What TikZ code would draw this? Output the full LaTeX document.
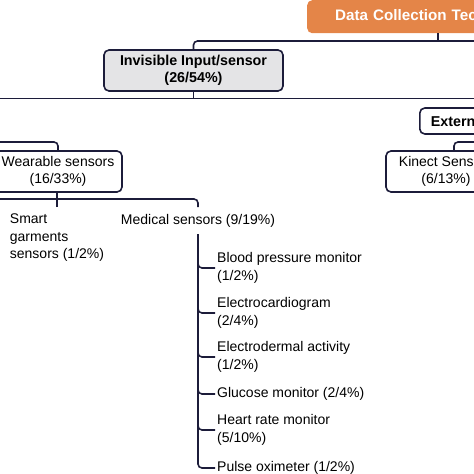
\documentclass[tikz,border=0pt]{standalone}
\usepackage{fontspec}
\setmainfont{Liberation Sans}
\definecolor{linenavy}{RGB}{28,28,58}
\definecolor{toporange}{RGB}{228,133,72}
\definecolor{boxgray}{RGB}{228,228,230}
\tikzset{
  conn/.style={draw=linenavy, line width=1.6pt, rounded corners=4pt},
  catbox/.style={draw=linenavy, line width=1.6pt, rounded corners=5pt, align=center, minimum height=41pt, inner sep=2pt},
  leaf/.style={align=left, inner xsep=2pt, inner ysep=5pt},
  boldtext/.style={font={\fontsize{14.3}{17.5}\selectfont\bfseries}},
}

\begin{document}
\begin{tikzpicture}[x=1pt, y=-1pt, font={\fontsize{14}{17.5}\selectfont}]
  \useasboundingbox (0,0) rectangle (474,474);
  \clip (0,0) rectangle (474,474);

  % category boxes
  \node[anchor=north west, fill=toporange, rounded corners=5pt, text=white, font={\fontsize{15.2}{18}\selectfont\bfseries}, minimum height=33pt, inner xsep=28pt, text width=206pt, align=left] (top) at (307,0) {Data Collection Techniques};
  \node[catbox, fill=boxgray, boldtext, minimum width=179pt] (inv) at (193.5,70.5) {Invisible Input/sensor\\(26/54\%)};
  \node[catbox, boldtext, anchor=west, minimum height=26pt, inner xsep=11pt] (ext) at (419,121) {External};
  \node[catbox, minimum width=128pt] (wear) at (58,171.5) {Wearable sensors\\(16/33\%)};
  \node[catbox, minimum width=120pt] (kin) at (446,171.5) {Kinect Sensors\\(6/13\%)};

  % leaves
  \node[leaf, anchor=north, inner ysep=7pt] (smart) at (57,207) {Smart\\garments\\sensors (1/2\%)};
  \node[leaf, anchor=north, inner ysep=7pt] (med) at (198,207) {Medical sensors (9/19\%)};
  \node[leaf, anchor=west] (bpm) at (215,268) {Blood pressure monitor\\(1/2\%)};
  \node[leaf, anchor=west] (ecg) at (215,313) {Electrocardiogram\\(2/4\%)};
  \node[leaf, anchor=west] (eda) at (215,357) {Electrodermal activity\\(1/2\%)};
  \node[leaf, anchor=west] (glu) at (215,394) {Glucose monitor (2/4\%)};
  \node[leaf, anchor=west] (hrm) at (215,430) {Heart rate monitor\\(5/10\%)};
  \node[leaf, anchor=west] (pox) at (215,468) {Pulse oximeter (1/2\%)};

  % free ends past the edges
  \coordinate (topR) at (480,41);
  \coordinate (invL) at (-6,98.5);
  \coordinate (invR) at (480,98.5);
  \coordinate (wearL) at (-6,142);
  \coordinate (kinR) at (480,142);
  \coordinate (smL) at (-6,199);

  % connectors
  \draw[conn] (top.south) -- (top.south |- topR);
  \draw[conn] (topR) -| (inv.north);
  \draw[conn] (invL) -- (invR);
  \draw[conn] (inv.south) -- (inv.south |- invL);
  \draw[conn] (wearL) -| (wear.north);
  \draw[conn] (kinR) -| ([xshift=8pt]kin.north);
  \draw[conn] (smL) -| (med.north);
  \draw[conn] (smart.north) -- (smart.north |- wear.south);
  \foreach \kid in {bpm,ecg,eda,glu,hrm,pox}
    \draw[conn] (med.south) |- (\kid.west);
\end{tikzpicture}
\end{document}
